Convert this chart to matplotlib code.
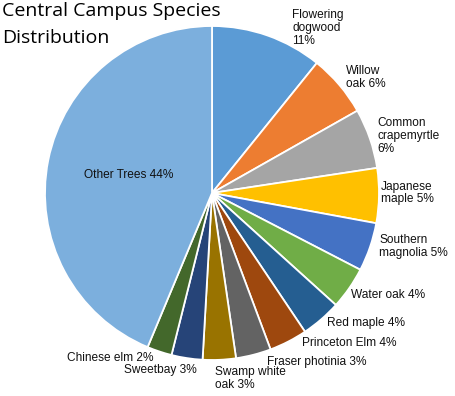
import matplotlib
matplotlib.use("Agg")
import matplotlib.pyplot as plt

# Datos de la gráfica
labels = ['Flowering\ndogwood\n11%', 'Willow\noak 6%', 'Common\ncrapemyrtle\n6%',
          'Japanese\nmaple 5%', 'Southern\nmagnolia 5%', 'Water oak 4%', 'Red maple 4%',
          'Princeton Elm 4%', 'Fraser photinia 3%', 'Swamp white\noak 3%', 'Sweetbay 3%',
          'Chinese elm 2%', 'Other Trees 44%']
shares = [10.8, 6.0, 5.8, 5.3, 4.7, 4.1, 3.9, 3.7, 3.4, 3.2, 3.0, 2.4, 43.7]
colors = ['#5B9BD5', '#ED7D31', '#A5A5A5', '#FFC000', '#4472C4', '#70AD47',
          '#255E91', '#9E480E', '#636363', '#997300', '#264478', '#43682B', '#7CAFDD']

# Posición de cada etiqueta (en unidades del radio) y alineación
label_pos = [(0.48, 0.99, 'left'), (0.80, 0.69, 'left'), (0.99, 0.34, 'left'),
             (1.01, 0.00, 'left'), (1.00, -0.32, 'left'), (0.83, -0.61, 'left'),
             (0.69, -0.78, 'left'), (0.54, -0.90, 'left'), (0.33, -1.01, 'left'),
             (0.02, -1.11, 'left'), (-0.09, -1.06, 'right'), (-0.35, -0.99, 'right'),
             (-0.50, 0.11, 'center')]

fig = plt.figure(figsize=(4.55, 3.96), dpi=100)
ax = fig.add_axes([0, 0, 1, 1])

ax.pie(shares, colors=colors, startangle=90, counterclock=False,
       wedgeprops=dict(edgecolor='white', linewidth=1.3))

for txt, (x, y, ha) in zip(labels, label_pos):
    ax.text(x, y, txt, ha=ha, va='center', fontsize=8.6,
            family='Liberation Sans', color='#111111', linespacing=1.1)

ax.set_xlim(-212 / 167, (455 - 212) / 167)
ax.set_ylim(-(396 - 193) / 167, 193 / 167)
ax.set_aspect('auto')
ax.axis('off')

fig.text(0.004, 0.995, 'Central Campus Species\nDistribution', ha='left', va='top',
         fontsize=14, family='Open Sans', color='black', linespacing=1.62)

fig.savefig('out.png', dpi=100)
